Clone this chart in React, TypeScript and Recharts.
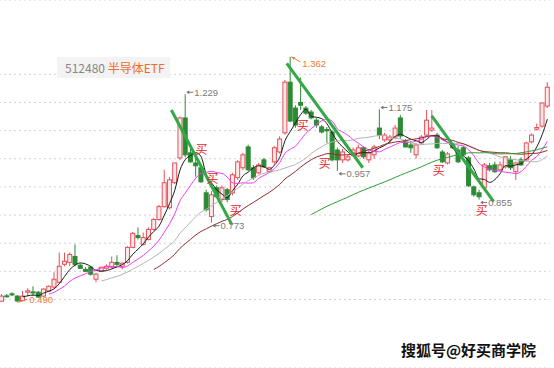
import React from 'react';
import {
  ComposedChart,
  Bar,
  Line,
  XAxis,
  YAxis,
  CartesianGrid,
  ReferenceLine,
  ReferenceDot,
} from 'recharts';

const opens = [
  0.494, 0.513, 0.52, 0.512, 0.496, 0.526, 0.527, 0.526, 0.512, 0.53,
  0.544, 0.561, 0.625, 0.632, 0.653, 0.622, 0.607, 0.615, 0.572, 0.6,
  0.611, 0.615, 0.632, 0.618, 0.632, 0.685, 0.727, 0.696, 0.713, 0.749,
  0.784, 0.83, 0.826, 0.915, 1.003, 1.145, 1.021, 0.985, 0.968, 0.879,
  0.795, 0.897, 0.855, 0.89, 0.879, 0.933, 0.968, 1.042, 0.968, 0.95,
  0.996, 0.954, 0.989, 1.024, 1.092, 1.272, 1.18, 1.2, 1.18, 1.166,
  1.137, 1.113, 1.104, 1.095, 1.031, 0.996, 0.996, 1.021, 1.01, 1.039,
  0.996, 1.014, 1.109, 1.067, 1.067, 1.077, 1.145, 1.063, 1.049, 1.014,
  1.056, 1.084, 1.102, 1.084, 1.024, 0.985, 1.049, 1.031, 1.039, 1.003,
  0.9, 0.879, 0.897, 0.975, 0.978, 0.961, 0.971, 0.996, 0.954, 0.996,
  0.996, 1.06, 1.105, 1.116, 1.187,
];
const highs = [
  0.519, 0.52, 0.526, 0.516, 0.53, 0.54, 0.547, 0.53, 0.54, 0.55,
  0.597, 0.667, 0.667, 0.667, 0.696, 0.628, 0.615, 0.618, 0.595, 0.615,
  0.625, 0.653, 0.657, 0.632, 0.689, 0.74, 0.756, 0.738, 0.756, 0.79,
  0.836, 0.961, 0.935, 0.985, 1.15, 1.229, 1.035, 1.014, 0.975, 0.89,
  0.885, 0.905, 0.905, 0.897, 0.95, 0.995, 1.021, 1.05, 0.978, 0.985,
  1.003, 0.972, 1.045, 1.08, 1.28, 1.362, 1.19, 1.289, 1.187, 1.173,
  1.145, 1.12, 1.113, 1.102, 1.04, 1.035, 1.014, 1.04, 1.05, 1.045,
  1.028, 1.05, 1.175, 1.092, 1.085, 1.12, 1.155, 1.07, 1.063, 1.056,
  1.085, 1.173, 1.173, 1.092, 1.031, 1.024, 1.056, 1.045, 1.045, 1.01,
  0.905, 0.89, 0.985, 0.985, 0.99, 0.99, 1.01, 1.01, 0.99, 1.005,
  1.06, 1.09, 1.125, 1.2, 1.272,
];
const lows = [
  0.492, 0.508, 0.512, 0.49, 0.495, 0.512, 0.512, 0.505, 0.509, 0.526,
  0.54, 0.556, 0.618, 0.618, 0.618, 0.608, 0.597, 0.585, 0.561, 0.597,
  0.606, 0.611, 0.618, 0.607, 0.628, 0.682, 0.713, 0.692, 0.71, 0.745,
  0.78, 0.826, 0.82, 0.91, 0.995, 1.005, 0.985, 0.936, 0.915, 0.812,
  0.773, 0.86, 0.845, 0.845, 0.87, 0.925, 0.96, 0.955, 0.925, 0.945,
  0.968, 0.95, 0.982, 1.018, 1.085, 1.13, 1.11, 1.173, 1.155, 1.14,
  1.11, 1.09, 1.056, 0.99, 0.957, 0.985, 0.99, 1.014, 1.005, 1.0,
  0.985, 1.0, 1.07, 1.06, 1.056, 1.07, 1.07, 1.04, 1.021, 1.0,
  1.05, 1.08, 1.095, 1.035, 0.985, 0.98, 1.035, 0.985, 1.01, 0.9,
  0.865, 0.855, 0.885, 0.955, 0.95, 0.955, 0.965, 0.96, 0.925, 0.975,
  0.99, 1.055, 1.1, 1.11, 1.18,
];
const closes = [
  0.512, 0.511, 0.517, 0.495, 0.512, 0.531, 0.524, 0.509, 0.537, 0.547,
  0.572, 0.618, 0.636, 0.66, 0.625, 0.611, 0.6, 0.59, 0.59, 0.615,
  0.618, 0.632, 0.625, 0.629, 0.685, 0.735, 0.72, 0.72, 0.749, 0.784,
  0.83, 0.915, 0.925, 0.985, 1.145, 1.014, 0.989, 0.975, 0.918, 0.819,
  0.872, 0.865, 0.897, 0.855, 0.943, 0.989, 1.014, 0.961, 0.933, 0.978,
  0.971, 0.968, 1.039, 1.07, 1.272, 1.134, 1.12, 1.19, 1.162, 1.145,
  1.12, 1.095, 1.099, 0.996, 0.996, 1.024, 1.007, 1.031, 1.039, 1.007,
  1.021, 1.042, 1.084, 1.084, 1.077, 1.109, 1.081, 1.042, 1.039, 1.049,
  1.077, 1.137, 1.109, 1.039, 0.989, 1.017, 1.039, 0.989, 1.014, 0.904,
  0.872, 0.865, 0.978, 0.961, 0.954, 0.978, 1.007, 0.968, 0.985, 0.978,
  1.056, 1.084, 1.111, 1.198, 1.254,
];

const maPeriods = [5, 10, 20, 30, 60];
const maColors = ['#1c1c1c', '#f03cf0', '#b4b4b4', '#962a2a', '#2f9e33'];

const gridTicks = [0.5, 0.6, 0.7, 0.8, 0.9, 1.0, 1.1, 1.2, 1.3];

// trend lines: [startIndex, startPrice, endIndex, endPrice]
const trendLines = [
  [32.34, 1.173, 43.87, 0.766],
  [54.34, 1.339, 68.82, 0.968],
  [81.96, 1.152, 93.77, 0.848],
];

// "买" markers: [index, price]
const buyMarks = [
  [38.1, 1.035],
  [40.2, 0.933],
  [44.63, 0.818],
  [57.4, 1.123],
  [61.6, 0.986],
  [83.3, 0.961],
  [91.5, 0.819],
];

// extreme price labels
const extremeIdx = [35, 55, 64, 72, 91, 40, 3];
const extremeVal = [1.229, 1.362, 0.957, 1.175, 0.855, 0.773, 0.49];
const extremeKind = ['hi', 'max', 'lo', 'hi', 'lo', 'lo', 'min'];

function movingAverage(n: number) {
  return closes.map((_, i) => {
    if (i < n - 1) return null;
    let s = 0;
    for (let k = i - n + 1; k <= i; k++) s += closes[k];
    return s / n;
  });
}
const mas = maPeriods.map(movingAverage);

const data = closes.map((c, i) => {
  const row: any = {
    idx: i,
    open: opens[i],
    high: highs[i],
    low: lows[i],
    close: c,
    range: [lows[i], highs[i]],
  };
  maPeriods.forEach((n, k) => {
    row['ma' + n] = mas[k][i];
  });
  return row;
});

const UP = '#e8505a';
const DOWN = '#2c8a34';

const Candle = (props: any) => {
  const { x, y, width, height, payload } = props;
  if (!payload) return null;
  const { open, close, high, low } = payload;
  const up = close >= open;
  const color = up ? UP : DOWN;
  const cx = x + width / 2;
  const top = Math.min(y, y + height);
  const h = Math.abs(height);
  const ratio = high === low ? 0 : h / (high - low);
  const yOf = (v: number) => top + (high - v) * ratio;
  const bTop = yOf(Math.max(open, close));
  const bBot = yOf(Math.min(open, close));
  const bw = 4;
  return (
    <g>
      <line x1={cx} x2={cx} y1={top} y2={top + h} stroke={color} strokeWidth={1} />
      <rect
        x={cx - bw / 2}
        y={bTop}
        width={bw}
        height={Math.max(bBot - bTop, 1)}
        fill={up ? '#fde9ea' : color}
        stroke={color}
        strokeWidth={1}
      />
    </g>
  );
};

const labelFont = '"Liberation Sans", Arial, sans-serif';

const makeExtremeShape = (kind: string, val: number) => (p: any) => {
  const { cx, cy } = p;
  if (cx == null || cy == null) return null;
  const txt = val.toFixed(3);
  if (kind === 'max') {
    const c = '#f0782f';
    return (
      <g>
        <line x1={cx + 1} y1={cy} x2={cx + 10} y2={cy + 5} stroke={c} strokeWidth={1} />
        <path d={`M${cx + 1},${cy} l4,0.5 l-1.5,2.5 z`} fill={c} />
        <text x={cx + 12} y={cy + 7} fontSize={9.5} fill={c} fontFamily={labelFont} dominantBaseline="central">
          {txt}
        </text>
      </g>
    );
  }
  if (kind === 'min') {
    const c = '#f0782f';
    return (
      <g>
        <line x1={cx + 1} y1={cy} x2={cx + 10} y2={cy - 3} stroke={c} strokeWidth={1} />
        <text x={cx + 12} y={cy - 3} fontSize={9.5} fill={c} fontFamily={labelFont} dominantBaseline="central">
          {txt}
        </text>
      </g>
    );
  }
  const c = '#7a7a7a';
  const dy = kind === 'hi' ? -2 : 3;
  const ty = cy + dy;
  return (
    <g>
      <line x1={cx + 2} y1={ty} x2={cx + 8} y2={ty} stroke={c} strokeWidth={1} />
      <path d={`M${cx + 1},${ty} l3,-2 l0,4 z`} fill={c} />
      <text x={cx + 9} y={ty} fontSize={9.5} fill={c} fontFamily={labelFont} dominantBaseline="central">
        {txt}
      </text>
    </g>
  );
};

const buyShape = (p: any) => {
  const { cx, cy } = p;
  if (cx == null || cy == null) return null;
  return (
    <text
      x={cx}
      y={cy}
      fontSize={12}
      fill="#e8232b"
      textAnchor="middle"
      dominantBaseline="central"
      fontFamily='"Noto Sans CJK SC", sans-serif'
    >
      买
    </text>
  );
};

export default function App() {
  return (
    <div style={{ position: 'absolute', left: 0, top: 0, width: 554, height: 368, background: '#fff', overflow: 'hidden' }}>
      <ComposedChart width={554} height={368} data={data} margin={{ top: 0, right: 4, bottom: 0, left: -1 }}>
        <CartesianGrid vertical={false} stroke="#d2d2d2" strokeDasharray="2 3" />
        <XAxis dataKey="idx" hide />
        <XAxis xAxisId="n" type="number" dataKey="idx" domain={[-0.5, 104.5]} allowDataOverflow hide />
        <YAxis hide type="number" domain={[0.2567, 1.5639]} ticks={gridTicks} allowDataOverflow />
        <Bar dataKey="range" shape={<Candle />} isAnimationActive={false} />
        {maPeriods.map((n, k) => (
          <Line
            key={n}
            dataKey={'ma' + n}
            type="monotone"
            stroke={maColors[k]}
            strokeWidth={1}
            dot={false}
            activeDot={false}
            isAnimationActive={false}
            connectNulls={false}
          />
        ))}
        {buyMarks.map(([i, v], k) => (
          <ReferenceDot key={'b' + k} xAxisId="n" x={i} y={v} r={0} ifOverflow="visible" shape={buyShape} />
        ))}
        {trendLines.map(([x1, y1, x2, y2], k) => (
          <ReferenceLine
            key={'t' + k}
            xAxisId="n"
            segment={[{ x: x1, y: y1 }, { x: x2, y: y2 }]}
            stroke="#33a846"
            strokeWidth={3}
            ifOverflow="visible"
          />
        ))}
        {extremeIdx.map((i, k) => (
          <ReferenceDot
            key={'e' + k}
            xAxisId="n"
            x={i}
            y={extremeVal[k]}
            r={0}
            ifOverflow="visible"
            shape={makeExtremeShape(extremeKind[k], extremeVal[k])}
          />
        ))}
      </ComposedChart>
      <div
        style={{
          position: 'absolute',
          left: 57,
          top: 57,
          width: 113,
          height: 21,
          background: '#f3f3f3',
          fontFamily: '"Noto Sans CJK SC", sans-serif',
          fontSize: 12,
          lineHeight: '21px',
          paddingLeft: 8,
          boxSizing: 'border-box',
          whiteSpace: 'nowrap',
        }}
      >
        <span style={{ color: '#888' }}>512480 </span>
        <span style={{ color: '#f06b2b' }}>半导体ETF</span>
      </div>
      <div
        style={{
          position: 'absolute',
          left: 401,
          top: 340,
          fontFamily: '"Noto Sans CJK SC", sans-serif',
          fontSize: 15,
          fontWeight: 700,
          lineHeight: '20px',
          color: '#111',
          whiteSpace: 'nowrap',
          textShadow: '0 0 2px #fff, 0 0 2px #fff, 0 0 1px #fff',
        }}
      >
        搜狐号@好买商学院
      </div>
    </div>
  );
}
